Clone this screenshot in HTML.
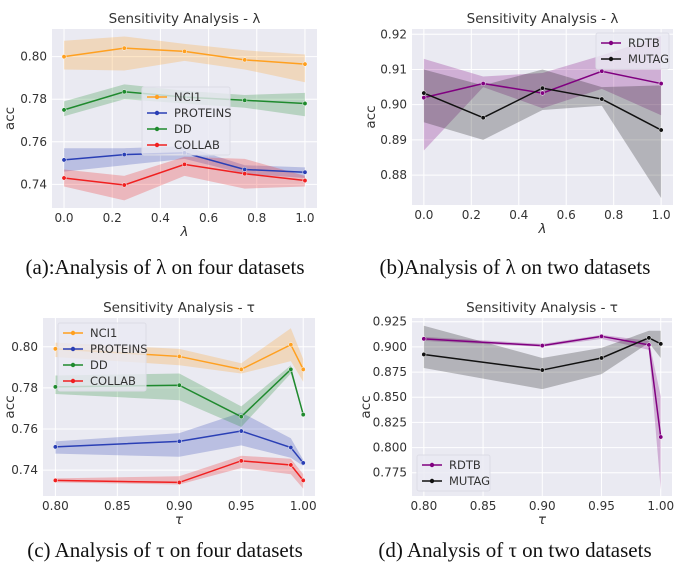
<!DOCTYPE html>
<html><head><meta charset="utf-8"><style>
body{margin:0;background:#fff;width:685px;height:566px;overflow:hidden}
svg{display:block}
.cap{font-family:"Liberation Serif",serif;font-size:21px;fill:#111}
.tk{font-family:"DejaVu Sans","Liberation Sans",sans-serif;font-size:12px;fill:#333}
.tt{font-family:"DejaVu Sans","Liberation Sans",sans-serif;font-size:13.5px;fill:#333}
.lg{font-family:"DejaVu Sans","Liberation Sans",sans-serif;font-size:11.5px;fill:#333}
</style></head><body>
<svg id="fig" width="685" height="566">
<text class="cap" x="165" y="274" text-anchor="middle">(a):Analysis of λ on four datasets</text>
<text class="cap" x="515" y="274" text-anchor="middle">(b)Analysis of λ on two datasets</text>
<text class="cap" x="165" y="557" text-anchor="middle">(c) Analysis of τ on four datasets</text>
<text class="cap" x="515" y="557" text-anchor="middle">(d) Analysis of τ on two datasets</text>
</svg>
<script>
// ---- Chart A data ----
const aX=[0,0.25,0.5,0.75,1.0];
const aNames=["NCI1","PROTEINS","DD","COLLAB"];
const aNCI1=[0.800,0.804,0.8025,0.7985,0.7965];
const aNCI1Lo=[0.794,0.7935,0.798,0.794,0.788];
const aNCI1Hi=[0.8075,0.8095,0.806,0.803,0.801];
const aPROT=[0.7515,0.754,0.7548,0.747,0.7457];
const aPROTLo=[0.746,0.749,0.752,0.745,0.743];
const aPROTHi=[0.757,0.757,0.758,0.749,0.748];
const aDD=[0.775,0.7835,0.781,0.7795,0.778];
const aDDLo=[0.772,0.780,0.778,0.776,0.772];
const aDDHi=[0.779,0.787,0.784,0.782,0.783];
const aCOL=[0.743,0.7397,0.7494,0.745,0.7418];
const aCOLLo=[0.739,0.7325,0.744,0.738,0.739];
const aCOLHi=[0.747,0.744,0.753,0.752,0.744];
const aXTicks=[0,0.2,0.4,0.6,0.8,1.0];
const aXTickLabels=["0.0","0.2","0.4","0.6","0.8","1.0"];
const aYTicks=[0.74,0.76,0.78,0.80];
const aYTickLabels=["0.74","0.76","0.78","0.80"];
// ---- Chart B data ----
const bX=[0,0.25,0.5,0.75,1.0];
const bNames=["RDTB","MUTAG"];
const bRDTB=[0.902,0.906,0.9033,0.9095,0.906];
const bRDTBLo=[0.887,0.905,0.899,0.9045,0.897];
const bRDTBHi=[0.913,0.908,0.909,0.914,0.9195];
const bMUT=[0.9033,0.8963,0.9047,0.9016,0.8928];
const bMUTLo=[0.895,0.890,0.8985,0.8997,0.8735];
const bMUTHi=[0.910,0.9055,0.910,0.905,0.9055];
const bXTicks=[0,0.2,0.4,0.6,0.8,1.0];
const bXTickLabels=["0.0","0.2","0.4","0.6","0.8","1.0"];
const bYTicks=[0.88,0.89,0.90,0.91,0.92];
const bYTickLabels=["0.88","0.89","0.90","0.91","0.92"];
// ---- Chart C data ----
const cX=[0.8,0.9,0.95,0.99,1.0];
const cNCI1=[0.799,0.7953,0.789,0.801,0.789];
const cNCI1Lo=[0.795,0.791,0.787,0.793,0.783];
const cNCI1Hi=[0.802,0.799,0.792,0.809,0.794];
const cPROT=[0.7513,0.754,0.759,0.751,0.7435];
const cPROTLo=[0.748,0.7465,0.752,0.746,0.742];
const cPROTHi=[0.754,0.758,0.768,0.7555,0.745];
const cDD=[0.7805,0.7813,0.766,0.789,0.767];
const cDDLo=[0.777,0.774,0.761,0.787,0.7665];
const cDDHi=[0.786,0.787,0.771,0.791,0.7675];
const cCOL=[0.735,0.734,0.7445,0.7425,0.735];
const cCOLLo=[0.734,0.733,0.741,0.738,0.731];
const cCOLHi=[0.736,0.737,0.747,0.7455,0.738];
const cXTicks=[0.8,0.85,0.9,0.95,1.0];
const cXTickLabels=["0.80","0.85","0.90","0.95","1.00"];
const cYTicks=[0.74,0.76,0.78,0.80];
const cYTickLabels=["0.74","0.76","0.78","0.80"];
// ---- Chart D data ----
const dX=[0.8,0.9,0.95,0.99,1.0];
const dRDTB=[0.908,0.9013,0.9105,0.902,0.8105];
const dRDTBLo=[0.906,0.900,0.908,0.897,0.758];
const dRDTBHi=[0.910,0.903,0.912,0.906,0.851];
const dMUT=[0.8925,0.877,0.889,0.909,0.903];
const dMUTLo=[0.879,0.858,0.873,0.904,0.889];
const dMUTHi=[0.921,0.889,0.899,0.916,0.916];
const dXTicks=[0.8,0.85,0.9,0.95,1.0];
const dXTickLabels=["0.80","0.85","0.90","0.95","1.00"];
const dYTicks=[0.775,0.8,0.825,0.85,0.875,0.9,0.925];
const dYTickLabels=["0.775","0.800","0.825","0.850","0.875","0.900","0.925"];

const NS="http://www.w3.org/2000/svg";
const svg=document.getElementById('fig');
function mk(tag,attrs,parent){const e=document.createElementNS(NS,tag);for(const k in attrs)e.setAttribute(k,attrs[k]);(parent||svg).appendChild(e);return e;}

function chart(id,box,xd,yd,xt,xtl,yt,ytl,series,title,xlab,legend){
  const g=mk('g',{});
  
  
  const sx=v=>box.x0+(v-xd[0])/(xd[1]-xd[0])*(box.x1-box.x0);
  const sy=v=>box.y1-(v-yd[0])/(yd[1]-yd[0])*(box.y1-box.y0);
  const bg=mk('rect',{x:box.x0,y:box.y0,width:box.x1-box.x0,height:box.y1-box.y0,fill:'#eaeaf2'},g);
  
  
  xt.forEach((v,i)=>{
    mk('line',{x1:sx(v),x2:sx(v),y1:box.y0,y2:box.y1,stroke:'#fff','stroke-width':1},g);
    const t=mk('text',{x:sx(v),y:box.y1+14,'text-anchor':'middle',class:'tk'},g);t.textContent=xtl[i];
    
    
  });
  yt.forEach((v,i)=>{
    mk('line',{x1:box.x0,x2:box.x1,y1:sy(v),y2:sy(v),stroke:'#fff','stroke-width':1},g);
    const t=mk('text',{x:box.x0-5,y:sy(v)+4,'text-anchor':'end',class:'tk'},g);t.textContent=ytl[i];
    
    
  });
  series.forEach(s=>{
    let p=s.x.map((v,i)=>sx(v)+','+sy(s.hi[i])).join(' ')+' '+s.x.map((v,i)=>sx(v)+','+sy(s.lo[i])).reverse().join(' ');
    const band=mk('polygon',{points:p,fill:s.c,'fill-opacity':s.a||0.25},g);
    
    
  });
  series.forEach(s=>{
    const ln=mk('polyline',{points:s.x.map((v,i)=>sx(v)+','+sy(s.y[i])).join(' '),fill:'none',stroke:s.c,'stroke-width':1.5},g);
    
    
    s.x.forEach((v,i)=>{
      const c=mk('circle',{cx:sx(v),cy:sy(s.y[i]),r:2.2,fill:s.c,stroke:'#fff','stroke-width':0.5},g);
      
      
    });
  });
  const tt=mk('text',{x:(box.x0+box.x1)/2,y:box.y0-6,'text-anchor':'middle',class:'tt'},g);tt.textContent=title;
  
  
  const xl=mk('text',{x:(box.x0+box.x1)/2,y:box.y1+28,'text-anchor':'middle',class:'tt','font-style':'italic'},g);xl.textContent=xlab;
  
  
  const yx=box.yl, ym=(box.y0+box.y1)/2;
  const yl=mk('text',{x:yx,y:ym,'text-anchor':'middle',class:'tt',transform:'rotate(-90 '+yx+' '+ym+')'},g);yl.textContent='acc';
  
  
  const L=legend;
  const lg=mk('g',{},g);
  
  
  mk('rect',{x:L.x,y:L.y,width:L.w,height:series.length*16+4,fill:'#eaeaf2','fill-opacity':0.8,stroke:'#dcdce6',rx:2},lg);
  series.forEach((s,i)=>{
    const yy=L.y+10+i*16;
    mk('line',{x1:L.x+5,x2:L.x+25,y1:yy,y2:yy,stroke:s.c,'stroke-width':1.5},lg);
    mk('circle',{cx:L.x+15,cy:yy,r:2.2,fill:s.c},lg);
    const t=mk('text',{x:L.x+32,y:yy+4,class:'lg'},lg);t.textContent=s.n;
    
    
  });
}
const OR='#ffa020',BL='#2a3fb5',GR='#1f8a2e',RD='#f02020',PU='#800080',BK='#111';
chart('chart-a',{x0:52,x1:317,y0:29,y1:208,yl:14},[-0.05,1.05],[0.7289,0.813],aXTicks,aXTickLabels,aYTicks,aYTickLabels,[
 {n:'NCI1',x:aX,y:aNCI1,lo:aNCI1Lo,hi:aNCI1Hi,c:OR},
 {n:'PROTEINS',x:aX,y:aPROT,lo:aPROTLo,hi:aPROTHi,c:BL},
 {n:'DD',x:aX,y:aDD,lo:aDDLo,hi:aDDHi,c:GR},
 {n:'COLLAB',x:aX,y:aCOL,lo:aCOLLo,hi:aCOLHi,c:RD}],'Sensitivity Analysis - λ','λ',{x:142,y:87,w:88});
chart('chart-b',{x0:412,x1:673,y0:29,y1:205,yl:375},[-0.05,1.05],[0.8715,0.9215],bXTicks,bXTickLabels,bYTicks,bYTickLabels,[
 {n:'RDTB',x:bX,y:bRDTB,lo:bRDTBLo,hi:bRDTBHi,c:PU,a:0.25},
 {n:'MUTAG',x:bX,y:bMUT,lo:bMUTLo,hi:bMUTHi,c:BK,a:0.25}],'Sensitivity Analysis - λ','λ',{x:596,y:33,w:73});
chart('chart-c',{x0:43,x1:315,y0:318,y1:496,yl:14},[0.79,1.0095],[0.7274,0.814],cXTicks,cXTickLabels,cYTicks,cYTickLabels,[
 {n:'NCI1',x:cX,y:cNCI1,lo:cNCI1Lo,hi:cNCI1Hi,c:OR},
 {n:'PROTEINS',x:cX,y:cPROT,lo:cPROTLo,hi:cPROTHi,c:BL},
 {n:'DD',x:cX,y:cDD,lo:cDDLo,hi:cDDHi,c:GR},
 {n:'COLLAB',x:cX,y:cCOL,lo:cCOLLo,hi:cCOLHi,c:RD}],'Sensitivity Analysis - τ','τ',{x:58,y:323,w:88});
chart('chart-d',{x0:412,x1:672,y0:318,y1:496,yl:370},[0.79,1.0095],[0.7519,0.9287],dXTicks,dXTickLabels,dYTicks,dYTickLabels,[
 {n:'RDTB',x:dX,y:dRDTB,lo:dRDTBLo,hi:dRDTBHi,c:PU,a:0.25},
 {n:'MUTAG',x:dX,y:dMUT,lo:dMUTLo,hi:dMUTHi,c:BK,a:0.25}],'Sensitivity Analysis - τ','τ',{x:417,y:455,w:73});
</script>
</body></html>
